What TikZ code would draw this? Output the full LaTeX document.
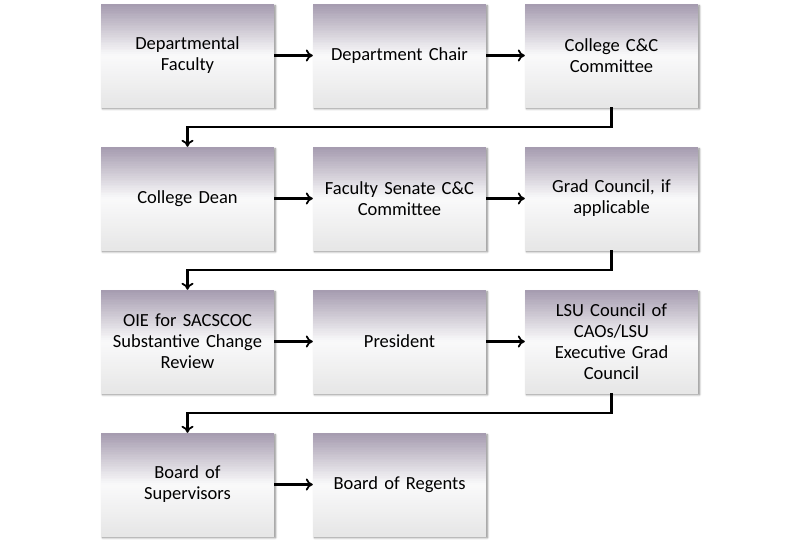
\documentclass[tikz,border=0pt]{standalone}
\usepackage{fontspec}
\setmainfont{Carlito}
\usetikzlibrary{arrows.meta,shadows.blur}
\newcommand\gradInterp[4]{%
  \pgfmathparse{\gradT<0.25 ? #1+(#2-#1)*\gradT/0.25 : (\gradT<0.5 ? #2+(#3-#2)*(\gradT-0.25)/0.25 : #3+(#4-#3)*(\gradT-0.5)/0.5)}%
  \pgfmathtruncatemacro\gradRes{\pgfmathresult}}
\newcommand\gradStrips{%
  \foreach \i in {0,...,59}{%
    \pgfmathsetmacro\gradT{\i/59}%
    \gradInterp{166}{208}{250}{231}\let\gradR\gradRes
    \gradInterp{156}{203}{250}{231}\let\gradG\gradRes
    \gradInterp{176}{213}{251}{231}\let\gradB\gradRes
    \definecolor{gradc}{RGB}{\gradR,\gradG,\gradB}%
    \pgfmathsetmacro\gradYa{-\i*103/60}%
    \pgfmathsetmacro\gradYb{-(\i+1)*103/60-0.6}%
    \fill[gradc] ([yshift=\gradYa pt]path picture bounding box.north west) rectangle ([yshift=\gradYb pt]path picture bounding box.north east);
  }}
\tikzset{
  stepbox/.style={rectangle, minimum width=173pt, minimum height=103pt,
    text width=160pt, align=center, inner sep=0pt,
    path picture={\gradStrips},
    blur shadow={shadow xshift=1.5pt, shadow yshift=-1.8pt, shadow blur steps=6, shadow blur radius=2pt, shadow opacity=45},
    font=\fontsize{18.5}{21}\selectfont},
  arr/.style={line width=2.2pt, -{To[length=7pt,width=12pt,line width=1.8pt]}}
}
\begin{document}
\begin{tikzpicture}[x=1pt,y=1pt]
\useasboundingbox (0,0) rectangle (800,-544);
\node[stepbox] (a1) at (187.5,-55.5) {Departmental\\Faculty};
\node[stepbox] (a2) at (399.5,-55.5) {Department Chair};
\node[stepbox] (a3) at (611.5,-55.5) {College C\&C\\Committee};
\node[stepbox] (b1) at (187.5,-198.5) {College Dean};
\node[stepbox] (b2) at (399.5,-198.5) {Faculty Senate C\&C\\Committee};
\node[stepbox] (b3) at (611.5,-198.5) {Grad Council, if\\applicable};
\node[stepbox] (c1) at (187.5,-341.5) {OIE for SACSCOC\\Substantive Change\\Review};
\node[stepbox] (c2) at (399.5,-341.5) {President};
\node[stepbox] (c3) at (611.5,-341.5) {LSU Council of\\CAOs/LSU\\Executive Grad\\Council};
\node[stepbox] (d1) at (187.5,-484.5) {Board of\\Supervisors};
\node[stepbox] (d2) at (399.5,-484.5) {Board of Regents};
\draw[arr] (a1) -- (a2);
\draw[arr] (a2) -- (a3);
\draw[arr] (b1) -- (b2);
\draw[arr] (b2) -- (b3);
\draw[arr] (c1) -- (c2);
\draw[arr] (c2) -- (c3);
\draw[arr] (d1) -- (d2);
\draw[arr] (a3.south) -- ++(0,-20) -| (b1.north);
\draw[arr] (b3.south) -- ++(0,-20) -| (c1.north);
\draw[arr] (c3.south) -- ++(0,-20) -| (d1.north);
\end{tikzpicture}
\end{document}
